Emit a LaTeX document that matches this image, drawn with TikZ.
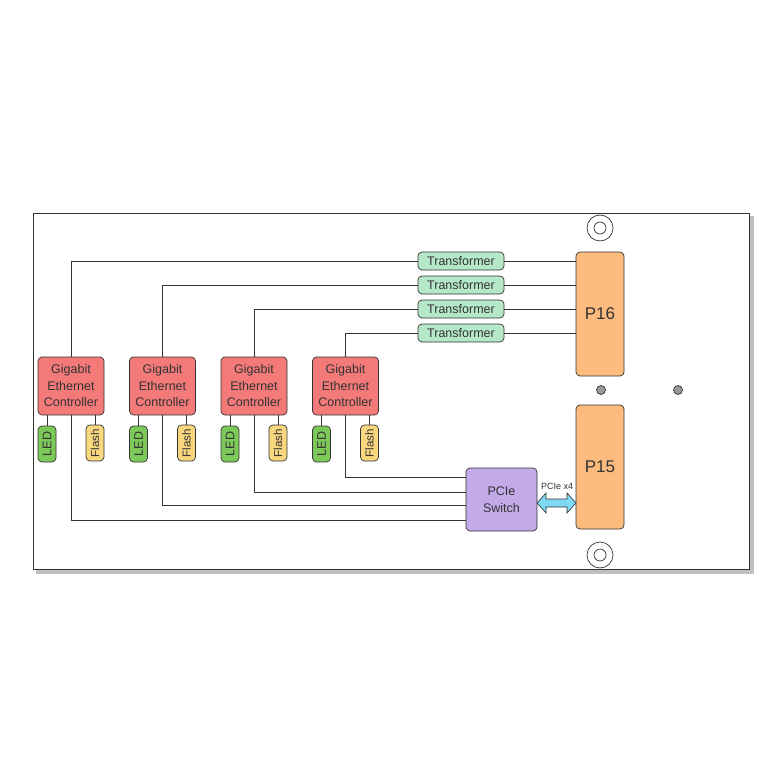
\documentclass[tikz,border=0pt]{standalone}
\usepackage{fontspec}
\setmainfont{Liberation Sans}
\usetikzlibrary{arrows.meta,shapes.arrows}
\definecolor{ctrlred}{HTML}{F47A7A}
\definecolor{ledgreen}{HTML}{7CC95A}
\definecolor{flashyel}{HTML}{F8D77E}
\definecolor{trgreen}{HTML}{B5E8C8}
\definecolor{conorange}{HTML}{FDBB7E}
\definecolor{swpurple}{HTML}{C4AAE8}
\definecolor{pcieblue}{HTML}{7FD9F5}
\begin{document}
\begin{tikzpicture}[x=1pt,y=-1pt,line width=0.7pt,draw=black!80]
	\tikzstyle{box}=[draw=black!80,rounded corners=4pt,inner sep=0pt,align=center,text=black!80]
	\tikzstyle{ctrl}=[box,fill=ctrlred,minimum width=66pt,minimum height=58pt,font=\fontsize{12.5}{16.5}\selectfont]
	\tikzstyle{led}=[box,fill=ledgreen,minimum width=36pt,minimum height=18pt,rotate=90,font=\fontsize{12.5}{14}\selectfont]
	\tikzstyle{flash}=[led,fill=flashyel,font=\fontsize{11.5}{13}\selectfont]
	\tikzstyle{xfmr}=[box,fill=trgreen,minimum width=86pt,minimum height=18pt,font=\fontsize{12.5}{14}\selectfont]
	\tikzstyle{conn}=[box,fill=conorange,minimum width=48pt,minimum height=124pt,font=\fontsize{17}{20}\selectfont]
	\tikzstyle{hole}=[circle,draw=black!80,fill=white,minimum size=26pt]
	\tikzstyle{dot}=[circle,draw=black!80,fill=black!40,minimum size=9pt,inner sep=0pt]
	\useasboundingbox (0,0) rectangle (783,783);

	% Board
	\fill[black!25] (36,216) rectangle (754,574);
	\draw[fill=white] (33,213) rectangle (749,569);

	% Connectors and holes
	\node[conn] (P16) at (600,314) {P16};
	\node[conn] (P15) at (600,467) {P15};
	\foreach \name / \y in {top/228,bot/555}{
		\node[hole] (H-\name) at (600,\y) {};
		\draw (H-\name) circle (6pt);
	}
	\node[dot] (D-1) at (601,390) {};
	\node[dot] (D-2) at (678,390) {};

	% Switch
	\node[box,fill=swpurple,minimum width=71pt,minimum height=63pt,font=\fontsize{12.5}{16.5}\selectfont] (SW) at (501.5,499.5) {PCIe\\Switch};
	\draw[draw=black!80,fill=pcieblue,line width=0.6pt] (537,503) -- ++(9,-10) -- ++(0,6) -- ++(21,0) -- ++(0,-6) -- ++(9,10) -- ++(-9,10) -- ++(0,-6) -- ++(-21,0) -- ++(0,6) -- cycle;
	\node[font=\fontsize{9}{10}\selectfont,text=black!80] (L-pcie) at (557,486) {PCIe x4};

	% Controllers, LEDs, Flash and transformers
	\foreach \i / \x / \yt / \yb in {1/71/261/520, 2/162.5/285/505, 3/254/309/492, 4/345.5/333/477}{
		\node[ctrl] (C-\i) at (\x,386) {Gigabit\\Ethernet\\Controller};
		\node[led] (LED-\i) at (\x-24,444) {LED};
		\node[flash] (F-\i) at (\x+24,443) {Flash};
		\draw (LED-\i.east) -- (LED-\i.east |- C-\i.south);
		\draw (F-\i.east) -- (F-\i.east |- C-\i.south);
		\node[xfmr] (T-\i) at (461,\yt) {Transformer};
		\draw (C-\i.north) |- (T-\i.west);
		\draw (T-\i.east) -- (T-\i.east -| P16.west);
		\draw (C-\i.south) |- (SW.west |- 0,\yb);
	}
\end{tikzpicture}
\end{document}
